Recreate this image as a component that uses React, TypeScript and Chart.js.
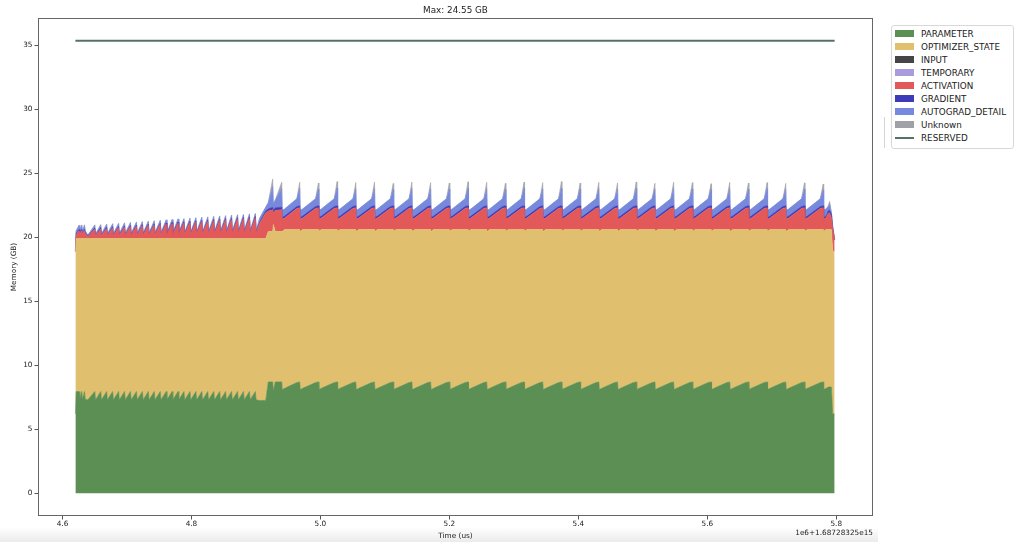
import { useEffect, useRef } from "react";
import { Chart, registerables } from "chart.js";

Chart.register(...registerables);

const plotTitle = "Max: 24.55 GB";
const offsetText = "1e6+1.68728325e15";
const xTickValues = [4.6, 4.8, 5.0, 5.2, 5.4, 5.6, 5.8];
const yTickValues = [0, 5, 10, 15, 20, 25, 30, 35];

// time stamps (us, minus offset) shared by every stacked category
const times = [
  // start and three early peaks
  4.6200, 4.6212, 4.6257, 4.6269, 4.6299, 4.6311, 4.6341, 4.6353, 4.6392,
  // first phase: peak, trough
  4.6501, 4.6513, 4.6593, 4.6605, 4.6685, 4.6697, 4.6778, 4.6790, 4.6870, 4.6882, 4.6962, 4.6974, 4.7054, 4.7066,
  4.7147, 4.7159, 4.7239, 4.7251, 4.7331, 4.7343, 4.7423, 4.7435, 4.7516, 4.7528, 4.7608, 4.7620, 4.7700, 4.7712,
  4.7792, 4.7804, 4.7884, 4.7896, 4.7977, 4.7989, 4.8069, 4.8081, 4.8161, 4.8173, 4.8253, 4.8265, 4.8346, 4.8358,
  4.8438, 4.8450, 4.8530, 4.8542, 4.8622, 4.8634, 4.8715, 4.8727, 4.8807, 4.8819, 4.8899, 4.8911, 4.8991, 4.9003,
  // step up
  4.9059, 4.9152, 4.9191, 4.9260, 4.9270, 4.9300, 4.9400,
  // second phase: after drop, step, ramp end, peak
  4.9408, 4.9445, 4.9634, 4.9679, 4.9687, 4.9724, 4.9924, 4.9969, 4.9977, 5.0014, 5.0214, 5.0259, 5.0267, 5.0304, 5.0504, 5.0549,
  5.0557, 5.0594, 5.0794, 5.0839, 5.0847, 5.0884, 5.1084, 5.1129, 5.1137, 5.1174, 5.1374, 5.1419, 5.1427, 5.1464, 5.1664, 5.1709,
  5.1717, 5.1754, 5.1954, 5.1999, 5.2007, 5.2044, 5.2244, 5.2289, 5.2297, 5.2334, 5.2534, 5.2579, 5.2587, 5.2624, 5.2824, 5.2869,
  5.2877, 5.2914, 5.3113, 5.3158, 5.3166, 5.3203, 5.3403, 5.3448, 5.3456, 5.3493, 5.3693, 5.3738, 5.3746, 5.3783, 5.3983, 5.4028,
  5.4036, 5.4073, 5.4273, 5.4318, 5.4326, 5.4363, 5.4563, 5.4608, 5.4616, 5.4653, 5.4853, 5.4898, 5.4906, 5.4943, 5.5143, 5.5188,
  5.5196, 5.5233, 5.5433, 5.5478, 5.5486, 5.5523, 5.5723, 5.5768, 5.5776, 5.5813, 5.6013, 5.6058, 5.6066, 5.6103, 5.6303, 5.6348,
  5.6356, 5.6393, 5.6593, 5.6638, 5.6646, 5.6683, 5.6882, 5.6927, 5.6935, 5.6972, 5.7172, 5.7217, 5.7225, 5.7262, 5.7462, 5.7507,
  5.7515, 5.7552, 5.7752, 5.7797,
  // tail
  5.7805, 5.7842, 5.7880, 5.7897, 5.7925, 5.7945, 5.7975,
];

const parameterGB = [
  6.20, 7.95, 7.95, 7.35, 7.95, 7.35, 7.95, 7.35, 7.30,
  7.95, 7.30, 7.95, 7.30, 7.95, 7.30, 7.95, 7.30, 7.95, 7.30, 7.95, 7.30, 7.95, 7.30,
  7.95, 7.30, 7.95, 7.30, 7.95, 7.30, 7.95, 7.30, 7.95, 7.30, 7.95, 7.30, 7.95, 7.30,
  7.95, 7.30, 7.95, 7.30, 7.95, 7.30, 7.95, 7.30, 7.95, 7.30, 7.95, 7.30, 7.95, 7.30,
  7.95, 7.30, 7.95, 7.30, 7.95, 7.30, 7.95, 7.30, 7.95, 7.30, 7.95, 7.30, 7.95, 7.30,
  7.25, 7.25, 8.70, 8.70, 8.00, 8.70, 8.70,
  8.10, 8.20, 8.65, 8.70, 8.10, 8.20, 8.65, 8.70, 8.10, 8.20, 8.65, 8.70, 8.10, 8.20, 8.65, 8.70,
  8.10, 8.20, 8.65, 8.70, 8.10, 8.20, 8.65, 8.70, 8.10, 8.20, 8.65, 8.70, 8.10, 8.20, 8.65, 8.70,
  8.10, 8.20, 8.65, 8.70, 8.10, 8.20, 8.65, 8.70, 8.10, 8.20, 8.65, 8.70, 8.10, 8.20, 8.65, 8.70,
  8.10, 8.20, 8.65, 8.70, 8.10, 8.20, 8.65, 8.70, 8.10, 8.20, 8.65, 8.70, 8.10, 8.20, 8.65, 8.70,
  8.10, 8.20, 8.65, 8.70, 8.10, 8.20, 8.65, 8.70, 8.10, 8.20, 8.65, 8.70, 8.10, 8.20, 8.65, 8.70,
  8.10, 8.20, 8.65, 8.70, 8.10, 8.20, 8.65, 8.70, 8.10, 8.20, 8.65, 8.70, 8.10, 8.20, 8.65, 8.70,
  8.10, 8.20, 8.65, 8.70, 8.10, 8.20, 8.65, 8.70, 8.10, 8.20, 8.65, 8.70, 8.10, 8.20, 8.65, 8.70,
  8.10, 8.20, 8.65, 8.70,
  8.10, 8.20, 8.30, 8.30, 8.30, 6.20, 6.20,
];

const optimizerGB = [
  12.70, 11.95, 11.95, 12.55, 11.95, 12.55, 11.95, 12.55, 12.60,
  11.95, 12.60, 11.95, 12.60, 11.95, 12.60, 11.95, 12.60, 11.95, 12.60, 11.95, 12.60, 11.95, 12.60,
  11.95, 12.60, 11.95, 12.60, 11.95, 12.60, 11.95, 12.60, 11.95, 12.60, 11.95, 12.60, 11.95, 12.60,
  11.95, 12.60, 11.95, 12.60, 11.95, 12.60, 11.95, 12.60, 11.95, 12.60, 11.95, 12.60, 11.95, 12.60,
  11.95, 12.60, 11.95, 12.60, 11.95, 12.60, 11.95, 12.60, 11.95, 12.60, 11.95, 12.60, 11.95, 12.60,
  12.65, 12.65, 11.75, 11.75, 13.00, 11.75, 11.75,
  12.35, 12.40, 11.95, 11.90, 12.35, 12.40, 11.95, 11.90, 12.35, 12.40, 11.95, 11.90, 12.35, 12.40, 11.95, 11.90,
  12.35, 12.40, 11.95, 11.90, 12.35, 12.40, 11.95, 11.90, 12.35, 12.40, 11.95, 11.90, 12.35, 12.40, 11.95, 11.90,
  12.35, 12.40, 11.95, 11.90, 12.35, 12.40, 11.95, 11.90, 12.35, 12.40, 11.95, 11.90, 12.35, 12.40, 11.95, 11.90,
  12.35, 12.40, 11.95, 11.90, 12.35, 12.40, 11.95, 11.90, 12.35, 12.40, 11.95, 11.90, 12.35, 12.40, 11.95, 11.90,
  12.35, 12.40, 11.95, 11.90, 12.35, 12.40, 11.95, 11.90, 12.35, 12.40, 11.95, 11.90, 12.35, 12.40, 11.95, 11.90,
  12.35, 12.40, 11.95, 11.90, 12.35, 12.40, 11.95, 11.90, 12.35, 12.40, 11.95, 11.90, 12.35, 12.40, 11.95, 11.90,
  12.35, 12.40, 11.95, 11.90, 12.35, 12.40, 11.95, 11.90, 12.35, 12.40, 11.95, 11.90, 12.35, 12.40, 11.95, 11.90,
  12.35, 12.40, 11.95, 11.90,
  12.35, 12.40, 12.30, 12.30, 12.30, 12.70, 12.70,
];

const inputGB: number[] = [];
const temporaryGB: number[] = [];

const activationGB = [
  0.00, 0.30, 0.60, 0.35, 0.62, 0.35, 0.62, 0.35, 0.15,
  0.72, 0.20, 0.75, 0.21, 0.79, 0.22, 0.82, 0.23, 0.85, 0.24, 0.89, 0.25, 0.92, 0.26,
  0.95, 0.27, 0.99, 0.28, 1.02, 0.29, 1.05, 0.30, 1.09, 0.31, 1.12, 0.32, 1.15, 0.33,
  1.19, 0.34, 1.22, 0.35, 1.25, 0.36, 1.29, 0.37, 1.32, 0.38, 1.35, 0.39, 1.39, 0.40,
  1.42, 0.41, 1.45, 0.42, 1.49, 0.43, 1.52, 0.44, 1.55, 0.45, 1.59, 0.45, 1.62, 0.46,
  1.20, 2.00, 1.60, 1.70, 0.90, 1.65, 1.70,
  0.95, 0.90, 1.65, 1.70, 0.95, 0.90, 1.65, 1.70, 0.95, 0.90, 1.65, 1.70, 0.95, 0.90, 1.65, 1.70,
  0.95, 0.90, 1.65, 1.70, 0.95, 0.90, 1.65, 1.70, 0.95, 0.90, 1.65, 1.70, 0.95, 0.90, 1.65, 1.70,
  0.95, 0.90, 1.65, 1.70, 0.95, 0.90, 1.65, 1.70, 0.95, 0.90, 1.65, 1.70, 0.95, 0.90, 1.65, 1.70,
  0.95, 0.90, 1.65, 1.70, 0.95, 0.90, 1.65, 1.70, 0.95, 0.90, 1.65, 1.70, 0.95, 0.90, 1.65, 1.70,
  0.95, 0.90, 1.65, 1.70, 0.95, 0.90, 1.65, 1.70, 0.95, 0.90, 1.65, 1.70, 0.95, 0.90, 1.65, 1.70,
  0.95, 0.90, 1.65, 1.70, 0.95, 0.90, 1.65, 1.70, 0.95, 0.90, 1.65, 1.70, 0.95, 0.90, 1.65, 1.70,
  0.95, 0.90, 1.65, 1.70, 0.95, 0.90, 1.65, 1.70, 0.95, 0.90, 1.65, 1.70, 0.95, 0.90, 1.65, 1.70,
  0.95, 0.90, 1.65, 1.70,
  0.95, 0.90, 1.30, 1.30, 0.90, 1.80, 0.90,
];

const gradientGB = [
  0.00, 0.10, 0.10, 0.10, 0.10, 0.10, 0.10, 0.10, 0.05,
  0.10, 0.05, 0.10, 0.05, 0.10, 0.05, 0.10, 0.05, 0.10, 0.05, 0.10, 0.05, 0.10, 0.05,
  0.10, 0.05, 0.10, 0.05, 0.10, 0.05, 0.10, 0.05, 0.10, 0.05, 0.10, 0.05, 0.10, 0.05,
  0.10, 0.05, 0.10, 0.05, 0.10, 0.05, 0.10, 0.05, 0.10, 0.05, 0.10, 0.05, 0.10, 0.05,
  0.10, 0.05, 0.10, 0.05, 0.10, 0.05, 0.10, 0.05, 0.10, 0.05, 0.10, 0.05, 0.10, 0.05,
  0.10, 0.15, 0.15, 0.20, 0.20, 0.20, 0.20,
  0.15, 0.15, 0.15, 0.15, 0.15, 0.15, 0.15, 0.15, 0.15, 0.15, 0.15, 0.15, 0.15, 0.15, 0.15, 0.15,
  0.15, 0.15, 0.15, 0.15, 0.15, 0.15, 0.15, 0.15, 0.15, 0.15, 0.15, 0.15, 0.15, 0.15, 0.15, 0.15,
  0.15, 0.15, 0.15, 0.15, 0.15, 0.15, 0.15, 0.15, 0.15, 0.15, 0.15, 0.15, 0.15, 0.15, 0.15, 0.15,
  0.15, 0.15, 0.15, 0.15, 0.15, 0.15, 0.15, 0.15, 0.15, 0.15, 0.15, 0.15, 0.15, 0.15, 0.15, 0.15,
  0.15, 0.15, 0.15, 0.15, 0.15, 0.15, 0.15, 0.15, 0.15, 0.15, 0.15, 0.15, 0.15, 0.15, 0.15, 0.15,
  0.15, 0.15, 0.15, 0.15, 0.15, 0.15, 0.15, 0.15, 0.15, 0.15, 0.15, 0.15, 0.15, 0.15, 0.15, 0.15,
  0.15, 0.15, 0.15, 0.15, 0.15, 0.15, 0.15, 0.15, 0.15, 0.15, 0.15, 0.15, 0.15, 0.15, 0.15, 0.15,
  0.15, 0.15, 0.15, 0.15,
  0.15, 0.15, 0.20, 0.20, 0.30, 0.10, 0.00,
];

const autogradGB = [
  0.00, 0.20, 0.30, 0.15, 0.30, 0.15, 0.30, 0.15, 0.05,
  0.20, 0.10, 0.20, 0.10, 0.20, 0.10, 0.20, 0.10, 0.20, 0.10, 0.20, 0.10, 0.20, 0.10,
  0.20, 0.10, 0.20, 0.10, 0.20, 0.10, 0.20, 0.10, 0.20, 0.10, 0.20, 0.10, 0.20, 0.10,
  0.20, 0.10, 0.20, 0.10, 0.20, 0.10, 0.20, 0.10, 0.20, 0.10, 0.20, 0.10, 0.20, 0.10,
  0.20, 0.10, 0.20, 0.10, 0.20, 0.10, 0.20, 0.10, 0.20, 0.10, 0.20, 0.10, 0.20, 0.10,
  0.30, 0.30, 0.50, 1.60, 0.50, 0.60, 1.45,
  0.55, 0.55, 0.60, 1.35, 0.55, 0.55, 0.60, 1.30, 0.55, 0.55, 0.60, 1.38, 0.55, 0.55, 0.60, 1.32,
  0.55, 0.55, 0.60, 1.35, 0.55, 0.55, 0.60, 1.28, 0.55, 0.55, 0.60, 1.36, 0.55, 0.55, 0.60, 1.33,
  0.55, 0.55, 0.60, 1.30, 0.55, 0.55, 0.60, 1.37, 0.55, 0.55, 0.60, 1.34, 0.55, 0.55, 0.60, 1.29,
  0.55, 0.55, 0.60, 1.35, 0.55, 0.55, 0.60, 1.32, 0.55, 0.55, 0.60, 1.38, 0.55, 0.55, 0.60, 1.30,
  0.55, 0.55, 0.60, 1.34, 0.55, 0.55, 0.60, 1.31, 0.55, 0.55, 0.60, 1.36, 0.55, 0.55, 0.60, 1.29,
  0.55, 0.55, 0.60, 1.35, 0.55, 0.55, 0.60, 1.32, 0.55, 0.55, 0.60, 1.27, 0.55, 0.55, 0.60, 1.34,
  0.55, 0.55, 0.60, 1.30, 0.55, 0.55, 0.60, 1.33, 0.55, 0.55, 0.60, 1.28, 0.55, 0.55, 0.60, 1.32,
  0.55, 0.55, 0.60, 1.25,
  0.55, 0.55, 0.30, 0.50, 0.10, 0.00, 0.00,
];

const unknownGB = [
  0.00, 0.00, 0.05, 0.00, 0.05, 0.00, 0.05, 0.00, 0.00,
  0.05, 0.00, 0.05, 0.00, 0.05, 0.00, 0.05, 0.00, 0.05, 0.00, 0.05, 0.00, 0.05, 0.00,
  0.05, 0.00, 0.05, 0.00, 0.05, 0.00, 0.05, 0.00, 0.05, 0.00, 0.05, 0.00, 0.05, 0.00,
  0.05, 0.00, 0.05, 0.00, 0.05, 0.00, 0.05, 0.00, 0.05, 0.00, 0.05, 0.00, 0.05, 0.00,
  0.05, 0.00, 0.05, 0.00, 0.05, 0.00, 0.05, 0.00, 0.05, 0.00, 0.05, 0.00, 0.05, 0.00,
  0.00, 0.00, 0.00, 0.60, 0.00, 0.00, 0.50,
  0.00, 0.00, 0.00, 0.50, 0.00, 0.00, 0.00, 0.48, 0.00, 0.00, 0.00, 0.52, 0.00, 0.00, 0.00, 0.50,
  0.00, 0.00, 0.00, 0.51, 0.00, 0.00, 0.00, 0.47, 0.00, 0.00, 0.00, 0.50, 0.00, 0.00, 0.00, 0.49,
  0.00, 0.00, 0.00, 0.48, 0.00, 0.00, 0.00, 0.51, 0.00, 0.00, 0.00, 0.50, 0.00, 0.00, 0.00, 0.47,
  0.00, 0.00, 0.00, 0.50, 0.00, 0.00, 0.00, 0.49, 0.00, 0.00, 0.00, 0.52, 0.00, 0.00, 0.00, 0.48,
  0.00, 0.00, 0.00, 0.50, 0.00, 0.00, 0.00, 0.48, 0.00, 0.00, 0.00, 0.51, 0.00, 0.00, 0.00, 0.47,
  0.00, 0.00, 0.00, 0.50, 0.00, 0.00, 0.00, 0.49, 0.00, 0.00, 0.00, 0.46, 0.00, 0.00, 0.00, 0.50,
  0.00, 0.00, 0.00, 0.48, 0.00, 0.00, 0.00, 0.49, 0.00, 0.00, 0.00, 0.47, 0.00, 0.00, 0.00, 0.48,
  0.00, 0.00, 0.00, 0.45,
  0.00, 0.00, 0.10, 0.20, 0.05, 0.00, 0.00,
];

const reservedTimes = [4.6200, 5.7975];
const reservedGB = [35.35, 35.35];

const COLORS: Record<string, string> = {
  PARAMETER: "#5b8f54",
  OPTIMIZER_STATE: "#e0bf6e",
  INPUT: "#454545",
  TEMPORARY: "#a99bdc",
  ACTIVATION: "#e35858",
  GRADIENT: "#3c3cba",
  AUTOGRAD_DETAIL: "#7789dd",
  Unknown: "#a0a0a8",
  RESERVED: "#56706b",
};

const FONT = "'DejaVu Sans', sans-serif";

const toPoints = (xs: number[], ys: number[]) =>
  ys.map((y, i) => ({ x: xs[i], y }));

function area(label: string, values: number[], fill: number | string | boolean) {
  return {
    label,
    data: toPoints(times, values),
    backgroundColor: COLORS[label],
    borderColor: COLORS[label],
    borderWidth: 0.6,
    pointRadius: 0,
    tension: 0,
    fill,
    stack: "memory",
  };
}

const framePlugin = {
  id: "frame",
  afterDraw(chart: Chart) {
    const { ctx, chartArea: a } = chart;
    ctx.save();
    ctx.strokeStyle = "#666";
    ctx.lineWidth = 1;
    ctx.strokeRect(a.left + 0.5, a.top + 0.5, a.right - a.left - 1, a.bottom - a.top - 1);
    ctx.fillStyle = "#222";
    ctx.textBaseline = "middle";
    ctx.textAlign = "center";
    ctx.font = `8.8px ${FONT}`;
    ctx.fillText(plotTitle, (a.left + a.right) / 2, 11);
    ctx.textAlign = "right";
    ctx.font = `7.3px ${FONT}`;
    ctx.fillText(offsetText, a.right, 533.5);
    ctx.restore();
  },
};

const legendItems = [
  "PARAMETER",
  "OPTIMIZER_STATE",
  "INPUT",
  "TEMPORARY",
  "ACTIVATION",
  "GRADIENT",
  "AUTOGRAD_DETAIL",
  "Unknown",
  "RESERVED",
];

function Legend() {
  return (
    <div
      style={{
        position: "absolute",
        left: 891,
        top: 25,
        width: 121,
        padding: "1px 0 4px 0",
        border: "1px solid #d8d8d8",
        borderRadius: 3,
        background: "#fff",
        fontFamily: FONT,
        fontSize: 8.8,
        color: "#222",
      }}
    >
      {legendItems.map((name) => (
        <div key={name} style={{ display: "flex", alignItems: "center", height: 13 }}>
          <span
            style={{
              display: "inline-block",
              marginLeft: 3,
              width: 19,
              height: name === "RESERVED" ? 2 : 7,
              background: COLORS[name],
            }}
          />
          <span style={{ marginLeft: 7, whiteSpace: "nowrap" }}>{name}</span>
        </div>
      ))}
    </div>
  );
}

export default function App() {
  const canvasRef = useRef<HTMLCanvasElement | null>(null);

  useEffect(() => {
    if (!canvasRef.current) {
      return;
    }

    const chart = new Chart(canvasRef.current, {
      type: "line",
      data: {
        datasets: [
          area("PARAMETER", parameterGB, "origin"),
          area("OPTIMIZER_STATE", optimizerGB, 0),
          area("INPUT", inputGB, false),
          area("TEMPORARY", temporaryGB, false),
          area("ACTIVATION", activationGB, 1),
          area("GRADIENT", gradientGB, 4),
          area("AUTOGRAD_DETAIL", autogradGB, 5),
          area("Unknown", unknownGB, 6),
          {
            label: "RESERVED",
            data: toPoints(reservedTimes, reservedGB),
            borderColor: COLORS.RESERVED,
            backgroundColor: COLORS.RESERVED,
            borderWidth: 2,
            pointRadius: 0,
            fill: false,
            stack: "reserved",
          },
        ] as any,
      },
      options: {
        animation: false,
        responsive: true,
        maintainAspectRatio: false,
        events: [],
        layout: { padding: { top: 18, right: 151, bottom: 0, left: 0 } },
        plugins: {
          legend: { display: false },
          tooltip: { enabled: false },
          title: { display: false },
        },
        scales: {
          x: {
            type: "linear",
            min: 4.562,
            max: 5.857,
            afterBuildTicks: (axis: any) => {
              axis.ticks = xTickValues.map((value) => ({ value }));
            },
            afterFit: (axis: any) => {
              axis.height = 34;
            },
            ticks: {
              autoSkip: false,
              maxRotation: 0,
              padding: 0,
              color: "#222",
              font: { family: FONT, size: 7.3 },
              callback: (v: any) => Number(v).toFixed(1),
            },
            grid: { drawOnChartArea: false, drawTicks: true, tickLength: 3.5, tickColor: "#555" },
            border: { display: false },
            title: {
              display: true,
              text: "Time (us)",
              color: "#222",
              font: { family: FONT, size: 7.3 },
              padding: { top: 0, bottom: 10 },
            },
          },
          y: {
            stacked: true,
            min: -1.77,
            max: 37.12,
            afterBuildTicks: (axis: any) => {
              axis.ticks = yTickValues.map((value) => ({ value }));
            },
            afterFit: (axis: any) => {
              axis.width = 38;
            },
            ticks: {
              padding: 2,
              color: "#222",
              font: { family: FONT, size: 7.3 },
              callback: (v: any) => String(v),
            },
            grid: { drawOnChartArea: false, drawTicks: true, tickLength: 3.5, tickColor: "#555" },
            border: { display: false },
            title: {
              display: true,
              text: "Memory (GB)",
              color: "#222",
              font: { family: FONT, size: 7.3 },
              padding: { top: 9.5, bottom: 0 },
            },
          },
        },
      },
      plugins: [framePlugin],
    });

    return () => {
      chart.destroy();
    };
  }, []);

  return (
    <div
      style={{
        position: "fixed",
        left: 0,
        top: 0,
        width: 1024,
        height: 550,
        background: "#fff",
        overflow: "hidden",
      }}
    >
      <div
        style={{
          position: "absolute",
          left: 0,
          top: 527,
          width: 878,
          height: 15,
          background: "linear-gradient(#ffffff, #ebebeb)",
        }}
      />
      <div
        style={{
          position: "absolute",
          left: 884,
          top: 117,
          width: 1,
          height: 31,
          background: "#d4d4d4",
        }}
      />
      <div style={{ position: "absolute", left: 0, top: 0, width: 1024, height: 550 }}>
        <canvas ref={canvasRef} />
      </div>
      <Legend />
    </div>
  );
}
